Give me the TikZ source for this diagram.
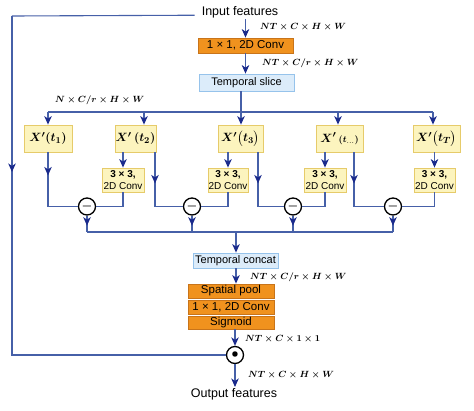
\documentclass[tikz,border=0pt]{standalone}
\usepackage{amsmath}
\usepackage{amssymb}
\usepackage{fontspec}
\setmainfont{Liberation Sans}
\usetikzlibrary{arrows.meta,calc,decorations.markings}

\definecolor{wirecol}{HTML}{4660A8}
\definecolor{tipcol}{HTML}{1A2A8C}
\definecolor{orangefill}{HTML}{F0921E}
\definecolor{orangeedge}{HTML}{C8741A}
\definecolor{yellowfill}{HTML}{FCF4BE}
\definecolor{yellowedge}{HTML}{E6CB6A}
\definecolor{bluefill}{HTML}{DCECFA}
\definecolor{blueedge}{HTML}{96C3EB}

\tikzset{
	wire/.style={draw=wirecol, line width=1.1pt},
	arr/.style={wire, -{Stealth[length=8.5pt,width=7.5pt,inset=2.5pt,color=tipcol]}},
	midarr/.style={wire, postaction={decorate},
		decoration={markings, mark=at position #1 with {\arrow{Stealth[length=8.5pt,width=7.5pt,inset=2.5pt,color=tipcol]}}}},
	txt/.style={inner sep=1pt, font=\fontsize{12.5}{14}\selectfont},
	orangebox/.style={draw=orangeedge, fill=orangefill, line width=0.8pt, inner sep=0pt, font=\fontsize{11.5}{12}\selectfont},
	bluebox/.style={draw=blueedge, fill=bluefill, line width=0.8pt, inner sep=0pt, font=\fontsize{11}{12}\selectfont},
	xbox/.style={draw=yellowedge, fill=yellowfill, line width=0.8pt, inner sep=0pt, minimum height=27pt, font=\fontsize{13}{14}\selectfont\boldmath},
	convbox/.style={draw=yellowedge, fill=yellowfill, line width=0.8pt, inner sep=0pt, minimum height=24pt, align=center, font=\fontsize{10}{11.5}\selectfont},
	opcirc/.style={circle, draw=black, fill=white, line width=1.3pt, minimum size=17pt, inner sep=0pt, font=\fontsize{13}{13}\selectfont\boldmath},
	dim/.style={anchor=west, inner sep=0pt, font=\fontsize{9.5}{10}\selectfont\boldmath}
}

\begin{document}
\begin{tikzpicture}[x=1pt,y=-1pt]

			\useasboundingbox (0,0) rectangle (474,410);

			% top part
			\node[txt] (in) at (240,12) {Input features};
			\node[orangebox, minimum width=95pt, minimum height=15pt] (conv1) at (245.5,45.5) {1 × 1, 2D Conv};
			\node[bluebox, minimum width=95pt, minimum height=17pt] (slice) at (246.5,82.5) {Temporal slice};

			\draw[arr] (conv1.north |- in.south) -- (conv1.north);
			\draw[arr] (conv1.south) -- (conv1.south |- slice.north);

			\node[dim] (d1) at (260,27) {$NT\times C\times H\times W$};
			\node[dim] (d2) at (262,63) {$NT\times C/r\times H\times W$};
			\node[dim] (d3) at (55,100) {$N\times C/r\times H\times W$};

			% temporal slices
			\node[xbox, minimum width=48pt] (x1) at (48,138.5) {$X'(t_1)$};
			\node[xbox, minimum width=41pt] (x2) at (135.5,138.5) {$X'\,(t_2)$};
			\node[xbox, minimum width=45pt] (x3) at (240.5,138.5) {$X'\bigl(t_3\bigr)$};
			\node[xbox, minimum width=47pt] (x4) at (339.5,138.5) {$X'\,{\scriptstyle(t_{\dots})}$};
			\node[xbox, minimum width=47pt] (x5) at (436.5,138.5) {$X'\bigl(t_T\bigr)$};

			\coordinate (b1) at (48,112);
			\coordinate (b2) at (144,112);
			\coordinate (b3) at (241,112);
			\coordinate (b4) at (338,112);
			\coordinate (b5) at (433,112);

			\draw[wire] (b3 |- slice.south) -- (b3);
			\draw[wire] (b1) -- (b5);
			\foreach \i in {1,...,5}
				\draw[arr] (b\i) -- (b\i |- x\i.north);

			% 3x3 convs
			\node[convbox, minimum width=42pt] (c2) at (123,180) {\textbf{3 × 3,}\\2D Conv};
			\node[convbox, minimum width=40pt] (c3) at (228,180) {\textbf{3 × 3,}\\2D Conv};
			\node[convbox, minimum width=42pt] (c4) at (325,180) {\textbf{3 × 3,}\\2D Conv};
			\node[convbox, minimum width=41pt] (c5) at (434.5,180) {\textbf{3 × 3,}\\2D Conv};

			\foreach \i in {2,...,5}
				\draw[arr] (c\i.north |- x\i.south) -- (c\i.north);

			% differences
			\node[opcirc] (m1) at (87,206.5) {$-$};
			\node[opcirc] (m2) at (192,206.5) {$-$};
			\node[opcirc] (m3) at (293,206.5) {$-$};
			\node[opcirc] (m4) at (393,206.5) {$-$};

			\draw[midarr=23pt] (x1.south) |- (m1);
			\draw[midarr=31pt] (155,0 |- x2.south) |- (m2);
			\draw[midarr=31pt] (258,0 |- x3.south) |- (m3);
			\draw[midarr=31pt] (354,0 |- x4.south) |- (m4);

			\draw[wire] (c2.south) |- (m1);
			\draw[wire] (c3.south) |- (m2);
			\draw[wire] (c4.south) |- (m3);
			\draw[wire] (c5.south) |- (m4);

			\coordinate (bar) at (236,232);
			\foreach \i in {1,...,4}
				\draw[midarr=10pt] (m\i) -- (m\i |- bar);
			\draw[wire] (m1 |- bar) -- (m4 |- bar);

			% bottom part
			\node[bluebox, minimum width=85pt, minimum height=15pt] (concat) at (235.5,260.5) {Temporal concat};
			\node[orangebox, minimum width=86pt, minimum height=14pt] (pool) at (231,291) {Spatial pool};
			\node[orangebox, minimum width=86pt, minimum height=14pt] (conv2) at (231,307) {1 × 1, 2D Conv};
			\node[orangebox, minimum width=86pt, minimum height=13pt] (sig) at (231,322.5) {Sigmoid};
			\node[opcirc] (mul) at (235,355) {$\bullet$};
			\node[txt] (out) at (234,394) {Output features};

			\draw[arr] (bar) -- (bar |- concat.north);
			\draw[arr] (bar |- concat.south) -- (bar |- pool.north);
			\draw[arr] (mul |- sig.south) -- (mul);
			\draw[arr] (mul) -- (mul |- out.north);

			\node[dim] (d4) at (250,277) {$NT\times C/r\times H\times W$};
			\node[dim] (d5) at (245,339) {$NT\times C\times 1\times 1$};
			\node[dim] (d6) at (248,375) {$NT\times C\times H\times W$};

			% skip connection
			\coordinate (lt) at (12,16);
			\coordinate (lb) at (12,355);
			\draw[wire] ([xshift=-6pt]in.base west) -- (lt);
			\draw[midarr=156pt] (lt) -- (lb) -- (mul);

		\end{tikzpicture}
\end{document}
